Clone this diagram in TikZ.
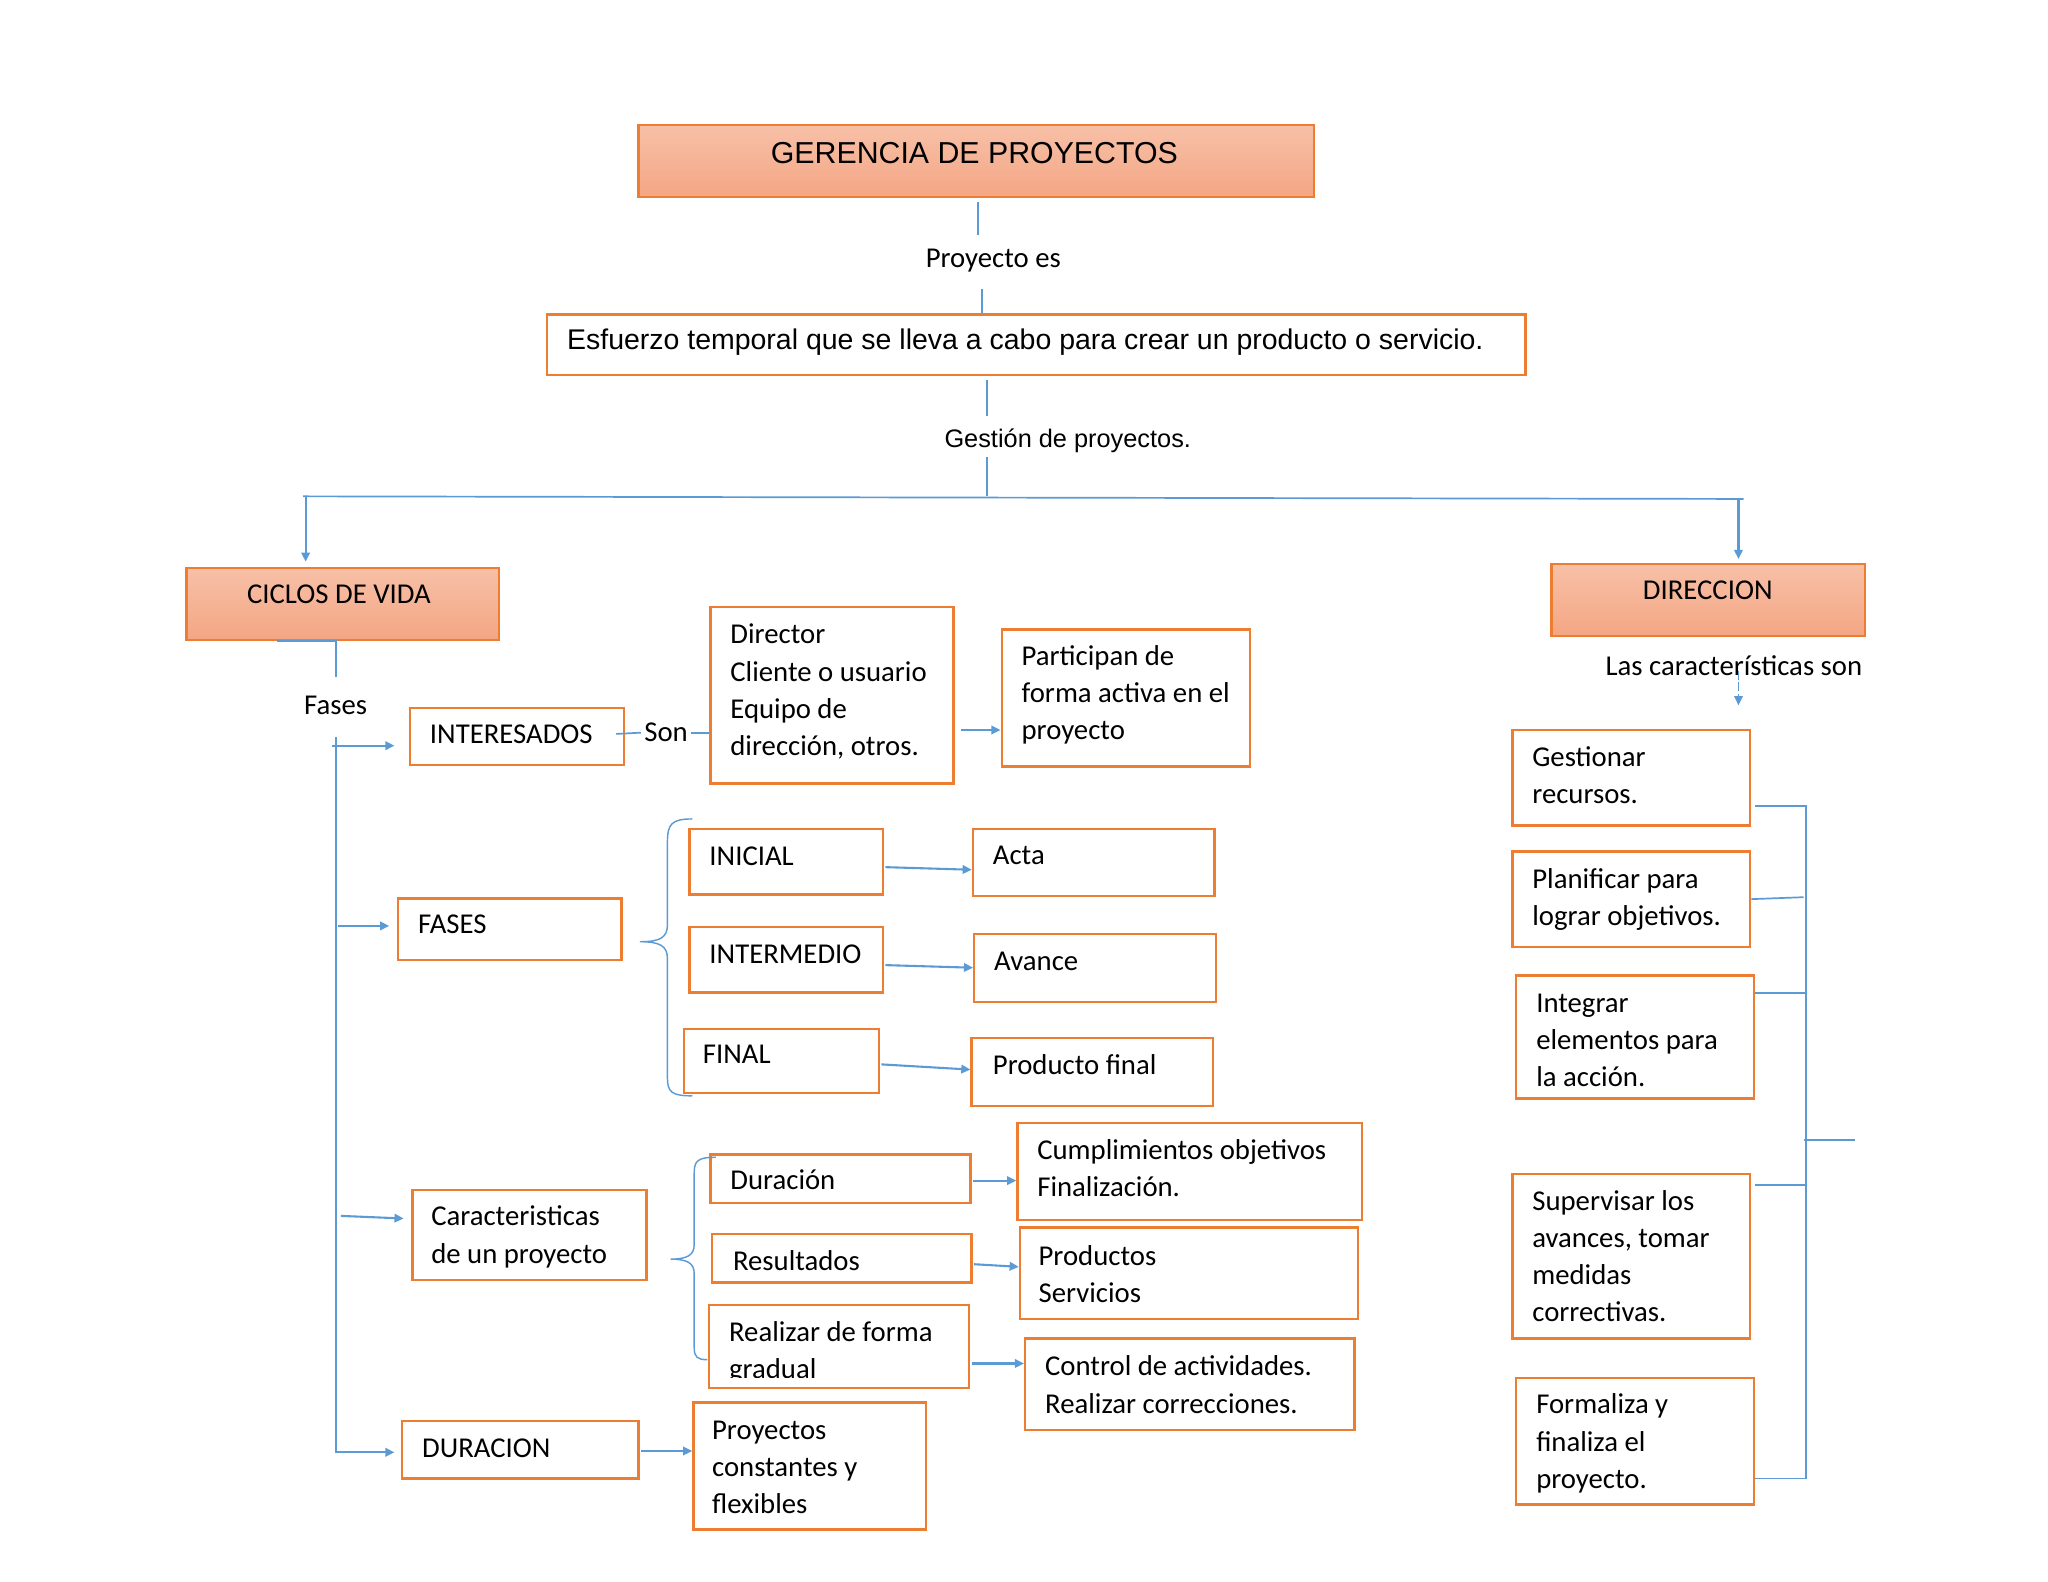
\documentclass[tikz,border=0pt]{standalone}
\usepackage{fontspec}
\usepackage{tikz}
\usetikzlibrary{arrows.meta}
\setmainfont{Carlito}
\newfontfamily\arial{Liberation Sans}
\definecolor{naranja}{RGB}{237,125,49}
\definecolor{azul}{RGB}{91,155,213}
\definecolor{salmonclaro}{RGB}{247,192,167}
\definecolor{salmon}{RGB}{244,166,131}

\begin{document}
\begin{tikzpicture}[x=1pt,y=-1pt]
	\tikzstyle{caja}=[draw=naranja,line width=1.8pt,anchor=north west,inner sep=0pt]
	\tikzstyle{titulo}=[caja,top color=salmonclaro,bottom color=salmon]
	\tikzstyle{texto}=[anchor=base west,align=left,inner sep=0pt,font=\fontsize{22}{28.5}\selectfont]
	\tikzstyle{etiqueta}=[anchor=base,inner sep=0pt,font=\fontsize{22}{28.5}\selectfont]
	\tikzstyle{linea}=[draw=azul,line width=1.3pt]
	\tikzstyle{flecha}=[linea,line width=1.6pt,-{Triangle[length=7pt,width=6.5pt]}]
	\useasboundingbox[fill=white] (0,0) rectangle (1568,1211);

	% cajas
	\node[titulo,minimum width=517pt,minimum height=55pt] (gerencia) at (488,95) {};
	\node[caja,minimum width=749pt,minimum height=46pt] (esfuerzo) at (418,240) {};
	\node[titulo,minimum width=239pt,minimum height=55pt] (ciclos) at (142,434) {};
	\node[titulo,minimum width=240pt,minimum height=55pt] (direccion) at (1187,431) {};
	\node[caja,minimum width=164pt,minimum height=44pt] (interesados) at (313,541) {};
	\node[caja,minimum width=186pt,minimum height=135pt] (director) at (543,464) {};
	\node[caja,minimum width=190pt,minimum height=105pt] (participan) at (766,481) {};
	\node[caja,minimum width=171pt,minimum height=47pt] (fases) at (304,687) {};
	\node[caja,minimum width=148pt,minimum height=50pt] (inicial) at (527,634) {};
	\node[caja,minimum width=185pt,minimum height=51pt] (acta) at (744,634) {};
	\node[caja,minimum width=148pt,minimum height=50pt] (intermedio) at (527,709) {};
	\node[caja,minimum width=185pt,minimum height=52pt] (avance) at (745,714) {};
	\node[caja,minimum width=149pt,minimum height=49pt] (final) at (523,787) {};
	\node[caja,minimum width=185pt,minimum height=52pt] (productofinal) at (743,794) {};
	\node[caja,minimum width=179pt,minimum height=69pt] (caracteristicas) at (315,910) {};
	\node[caja,minimum width=199pt,minimum height=37pt] (duracion) at (543,883) {};
	\node[caja,minimum width=264pt,minimum height=74pt] (cumplimientos) at (778,859) {};
	\node[caja,minimum width=199pt,minimum height=37pt] (resultados) at (544,944) {};
	\node[caja,minimum width=259pt,minimum height=70pt] (productos) at (780,939) {};
	\node[caja,minimum width=199pt,minimum height=64pt] (gradual) at (542,998) {};
	\node[caja,minimum width=252pt,minimum height=70pt] (control) at (784,1024) {};
	\node[caja,minimum width=181pt,minimum height=44pt] (duracionbox) at (307,1087) {};
	\node[caja,minimum width=178pt,minimum height=97pt] (proyectos) at (530,1073) {};
	\node[caja,minimum width=182pt,minimum height=73pt] (gestionar) at (1157,558) {};
	\node[caja,minimum width=182pt,minimum height=73pt] (planificar) at (1157,651) {};
	\node[caja,minimum width=182pt,minimum height=94pt] (integrar) at (1160,746) {};
	\node[caja,minimum width=182pt,minimum height=126pt] (supervisar) at (1157,898) {};
	\node[caja,minimum width=182pt,minimum height=97pt] (formaliza) at (1160,1054) {};

	% textos (base = ultima linea)
	\node[etiqueta,font=\arial\fontsize{23.2}{28}\selectfont] (tgerencia) at (746,125) {GERENCIA DE PROYECTOS};
	\node[texto,font=\arial\fontsize{21.8}{26}\selectfont] (tesfuerzo) at (434,267.6) {Esfuerzo temporal que se lleva a cabo para crear un producto o servicio.};
	\node[etiqueta] (tciclos) at (259.5,462) {CICLOS DE VIDA};
	\node[etiqueta] (tdireccion) at (1307.5,459) {DIRECCION};
	\node[texto] (tinteresados) at (329,569.5) {INTERESADOS};
	\node[texto] (tdirector) at (559,578.5) {Director\\Cliente o usuario\\Equipo de\\dirección, otros.};
	\node[texto] (tparticipan) at (782,566.5) {Participan de\\forma activa en el\\proyecto};
	\node[texto] (tfases) at (320,715) {FASES};
	\node[texto] (tinicial) at (543,662.5) {INICIAL};
	\node[texto] (tacta) at (760,662) {Acta};
	\node[texto] (tintermedio) at (543,737.5) {INTERMEDIO};
	\node[texto] (tavance) at (761,743) {Avance};
	\node[texto] (tfinal) at (538,814.5) {FINAL};
	\node[texto] (tproductofinal) at (760,823) {Producto final};
	\node[texto] (tcaracteristicas) at (330,967) {Caracteristicas\\de un proyecto};
	\node[texto] (tduracion) at (559,910.5) {Duración};
	\node[texto] (tcumplimientos) at (794,916) {Cumplimientos objetivos\\Finalización.};
	\node[texto] (tresultados) at (561,973) {Resultados};
	\node[texto] (tproductos) at (795,997) {Productos\\Servicios};
	\begin{scope}
		\clip (gradual.north west) rectangle ([yshift=9pt]gradual.south east);
		\node[texto] (tgradual) at (558,1055.5) {Realizar de forma\\gradual};
	\end{scope}
	\node[texto,font=\fontsize{22}{29.5}\selectfont] (tcontrol) at (800,1082.5) {Control de actividades.\\Realizar correcciones.};
	\node[texto] (tduracionbox) at (323,1115.5) {DURACION};
	\node[texto] (tproyectos) at (545,1159) {Proyectos\\constantes y\\flexibles};
	\node[texto] (tgestionar) at (1173,615.5) {Gestionar\\recursos.};
	\node[texto] (tplanificar) at (1173,708.5) {Planificar para\\lograr objetivos.};
	\node[texto] (tintegrar) at (1176,832) {Integrar\\elementos para\\la acción.};
	\node[texto] (tsupervisar) at (1173,1012) {Supervisar los\\avances, tomar\\medidas\\correctivas.};
	\node[texto] (tformaliza) at (1176,1139.5) {Formaliza y\\finaliza el\\proyecto.};

	% etiquetas de enlace
	\node[etiqueta] (proyecto) at (760.5,205) {Proyecto es};
	\node[etiqueta,font=\arial\fontsize{19.4}{24}\selectfont] (gestion) at (817.5,342.6) {Gestión de proyectos.};
	\node[etiqueta] (lfases) at (257,547) {Fases};
	\node[etiqueta] (son) at (510,568) {Son};
	\node[etiqueta] (lascar) at (1327.5,517.5) {Las características son};

	% enlaces de arriba
	\coordinate (g1) at ([xshift=1.5pt]gerencia.south);
	\coordinate (g2) at ([xshift=4.5pt]gerencia.south);
	\coordinate (e1) at ([xshift=-37.5pt]esfuerzo.south);
	\coordinate (izq) at (232,380);
	\coordinate (der) at (1335,382);
	\coordinate (b1) at ([xshift=92pt]ciclos.north west);
	\coordinate (b2) at ([xshift=144pt]direccion.north west);
	\draw[linea,shorten <=3pt,shorten >=11pt] (g1) -- (g1 |- proyecto.north);
	\draw[linea,shorten <=12.5pt] (g2 |- proyecto.south) -- (g2 |- esfuerzo.north);
	\draw[linea,shorten <=3pt,shorten >=9.6pt] (e1) -- (e1 |- gestion.north);
	\draw[linea,shorten <=3.3pt] (e1 |- gestion.south) -- (e1 |- izq);
	\draw[linea] (izq) -- (der);
	\draw[flecha,shorten >=4pt] (b1 |- izq) -- (b1);
	\draw[flecha,shorten >=3pt] (b2 |- der) -- (b2);

	% ciclos de vida
	\draw[linea,shorten >=14pt] ([xshift=-50.5pt]ciclos.south) -| (lfases.north);
	\draw[flecha,shorten <=17pt] (lfases.south) |- ([xshift=-5pt,yshift=-2pt]duracionbox.west);
	\draw[flecha] ([xshift=-59pt,yshift=-7pt]interesados.west) -- ([xshift=-11pt,yshift=-7pt]interesados.west);
	\draw[flecha] ([xshift=-45pt,yshift=2.5pt]fases.west) -- ([xshift=-6pt,yshift=2.5pt]fases.west);
	\draw[flecha] ([xshift=-54pt,yshift=14.5pt]caracteristicas.west) -- ([xshift=-6pt,yshift=12.5pt]caracteristicas.west);
	\draw[linea] ([xshift=-7pt,yshift=2pt]interesados.east) -- ([xshift=-2.5pt]son.west);
	\draw[linea] ([xshift=2.5pt]son.east) -- (son.east -| director.west);
	\draw[flecha] ([xshift=5pt,yshift=-26.5pt]director.east) -- ([yshift=-24.5pt]participan.west);
	\draw[flecha] ([xshift=1pt,yshift=-4pt]inicial.east) -- ([yshift=-5.5pt]acta.west);
	\draw[flecha] ([xshift=1pt,yshift=-4pt]intermedio.east) -- (avance.west);
	\draw[flecha] ([xshift=1pt,yshift=-2.5pt]final.east) -- ([yshift=2pt]productofinal.west);
	\draw[flecha] ([xshift=1pt,yshift=-1.5pt]duracion.east) -- ([yshift=-7pt]cumplimientos.west);
	\draw[flecha] ([xshift=1pt,yshift=-4.5pt]resultados.east) -- ([yshift=5pt]productos.west);
	\draw[flecha] ([xshift=1pt,yshift=-13pt]gradual.east) -- ([yshift=16pt]control.west);
	\draw[flecha] ([xshift=1pt,yshift=-1pt]duracionbox.east) -- ([yshift=11.5pt]proyectos.west);

	% llaves
	\draw[linea,line width=1.1pt] (530,627) .. controls (514,627) and (511,631) .. (511,645) -- (511,708) .. controls (511,718) and (505,721) .. (490,721) .. controls (505,721) and (511,724) .. (511,734) -- (511,825) .. controls (511,836) and (514,839) .. (530,839);
	\draw[linea,line width=1.1pt] (548,886) .. controls (534,886) and (531.5,889) .. (531.5,898) -- (531.5,953) .. controls (531.5,961) and (526,964) .. (513.5,964) .. controls (526,964) and (531.5,967) .. (531.5,975) -- (531.5,1032) .. controls (531.5,1039) and (534,1041) .. (541.5,1041);

	% direccion
	\draw[flecha,line width=1.3pt,dash pattern=on 7pt off 2pt,shorten <=-4.5pt,shorten >=18pt] (b2 |- lascar.south) -- (b2 |- gestionar.north);
	\draw[linea] ([xshift=3pt,yshift=-21.5pt]gestionar.east) -| ([xshift=39pt,yshift=-28.5pt]formaliza.east) -- ([yshift=-28.5pt]formaliza.east);
	\draw[linea] (planificar.east) -- ([xshift=40pt,yshift=1.5pt]planificar.east);
	\draw[linea] ([yshift=-14pt]integrar.north east) -- ([xshift=39pt,yshift=-14pt]integrar.north east);
	\draw[linea] ([xshift=3pt,yshift=-9pt]supervisar.north east) -- ([xshift=42pt,yshift=-9pt]supervisar.north east);
	\coordinate (eje) at (1381,873);
	\coordinate (salida) at (1420,873);
	\draw[linea] (eje) -- (salida);
\end{tikzpicture}
\end{document}
